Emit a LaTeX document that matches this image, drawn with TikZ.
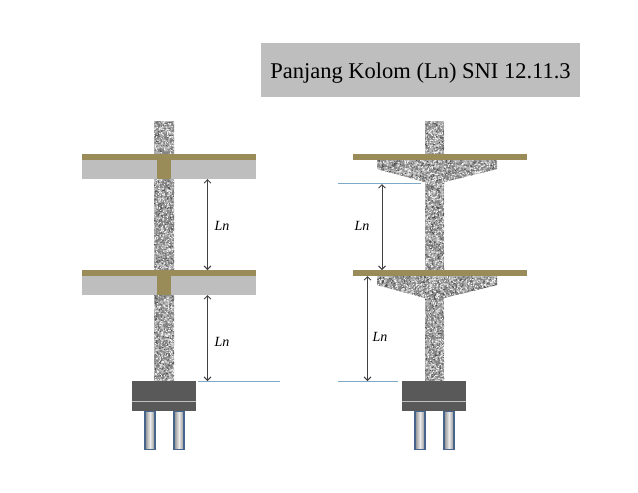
\documentclass[tikz,border=0pt]{standalone}
\usepackage{fontspec}
\setmainfont{Liberation Serif}
\usetikzlibrary{arrows.meta}
\definecolor{bandcol}{HTML}{9A8C58}
\definecolor{slabcol}{HTML}{BEBEBE}
\definecolor{footcol}{HTML}{595959}
\definecolor{levelcol}{HTML}{7FA9C9}
\definecolor{pilecol}{HTML}{47648C}
\tikzset{
  band/.style={fill=bandcol},
  slab/.style={fill=slabcol},
  foot/.style={fill=footcol},
  levelline/.style={draw=levelcol,line width=1pt},
  span/.style={{Straight Barb[length=3.5pt,width=7pt]}-{Straight Barb[length=3.5pt,width=7pt]},line width=0.9pt,black!75},
  pile/.style={draw=pilecol,line width=1.3pt,left color=black!45,right color=black!45,middle color=black!8},
  lnlabel/.style={font=\fontsize{14}{16}\selectfont\itshape,inner sep=0pt}
}
% speckled fill: x0 y0 x1 y1 and number of grains
\newcommand{\grains}[5]{
  \fill[black!30] (#1,#2) rectangle (#3,#4);
  \fill[black!68] \foreach \i in {1,...,#5} {
    ({#1+rnd*(#3-#1)},{#2+rnd*(#4-#2)}) rectangle +(1.2,1.2)};
  \fill[black!48] \foreach \i in {1,...,#5} {
    ({#1+rnd*(#3-#1)},{#2+rnd*(#4-#2)}) rectangle +(1.5,1.5)};
  \fill[black!6] \foreach \i in {1,...,#5} {
    ({#1+rnd*(#3-#1)},{#2+rnd*(#4-#2)}) rectangle +(1,1)};
}
\begin{document}
\begin{tikzpicture}[x=1pt,y=-1pt]
  \pgfmathsetseed{42}
  \useasboundingbox (0,0) rectangle (638,493);
  % title
  \node[fill=slabcol,minimum width=319pt,minimum height=54pt,inner sep=0pt,
    font=\fontsize{22.5}{25}\selectfont] (title) at (420.5,70) {\raisebox{-8pt}[6pt][6pt]{Panjang Kolom (Ln) SNI 12.11.3}};
  % left column
  \begin{scope}
    \clip (154,121) rectangle (174,381);
    \grains{154}{121}{174}{381}{1100}
  \end{scope}
  \foreach \y in {154,270} {
    \fill[slab] (82,\y+6) rectangle (256,\y+25);
    \fill[band] (82,\y) rectangle (256,\y+6);
    \fill[band] (157,\y+6) rectangle (171,\y+25);
  }
  % right column
  \begin{scope}
    \clip (425,121) -- (444,121) -- (444,154) -- (444,160) -- (497,160) -- (497,169) -- (444,182)
      -- (444,276) -- (497,276) -- (497,285) -- (444,298) -- (444,381) -- (425,381) -- (425,298)
      -- (377,285) -- (377,276) -- (425,276) -- (425,182) -- (377,169) -- (377,160) -- (425,160) -- cycle;
    \grains{425}{121}{444}{381}{1050}
    \grains{377}{160}{497}{183}{600}
    \grains{377}{276}{497}{299}{600}
  \end{scope}
  \foreach \y in {154,270} {
    \fill[band] (353,\y) rectangle (527,\y+6);
  }
  % foundations
  \foreach \x in {132,402} {
    \fill[foot] (\x,381) rectangle (\x+63.5,411);
    \draw[black!25,line width=0.7pt] (\x,401) -- (\x+63.5,401);
    \draw[pile] (\x+13,411.5) rectangle (\x+23,449.5);
    \draw[pile] (\x+42,411.5) rectangle (\x+52,449.5);
  }
  % level lines
  \coordinate (levelA) at (198,381.5);
  \coordinate (levelB) at (280,381.5);
  \coordinate (levelC) at (338,183.5);
  \coordinate (levelD) at (421,183.5);
  \coordinate (levelE) at (338,381.5);
  \coordinate (levelF) at (398,381.5);
  \draw[levelline] (levelA) -- (levelB);
  \draw[levelline] (levelC) -- (levelD);
  \draw[levelline] (levelE) -- (levelF);
  % spans
  \coordinate (spanA) at (207.5,179);
  \coordinate (spanB) at (207.5,270);
  \coordinate (spanC) at (207.5,295);
  \coordinate (spanD) at (207.5,381);
  \coordinate (spanE) at (382,184);
  \coordinate (spanF) at (382,270);
  \coordinate (spanG) at (367.5,276);
  \coordinate (spanH) at (367.5,381);
  \draw[span] (spanA) -- (spanB);
  \draw[span] (spanC) -- (spanD);
  \draw[span] (spanE) -- (spanF);
  \draw[span] (spanG) -- (spanH);
  \node[lnlabel] (lnA) at (222,226) {Ln};
  \node[lnlabel] (lnB) at (222,342) {Ln};
  \node[lnlabel] (lnC) at (362,226) {Ln};
  \node[lnlabel] (lnD) at (380,337) {Ln};
\end{tikzpicture}
\end{document}
